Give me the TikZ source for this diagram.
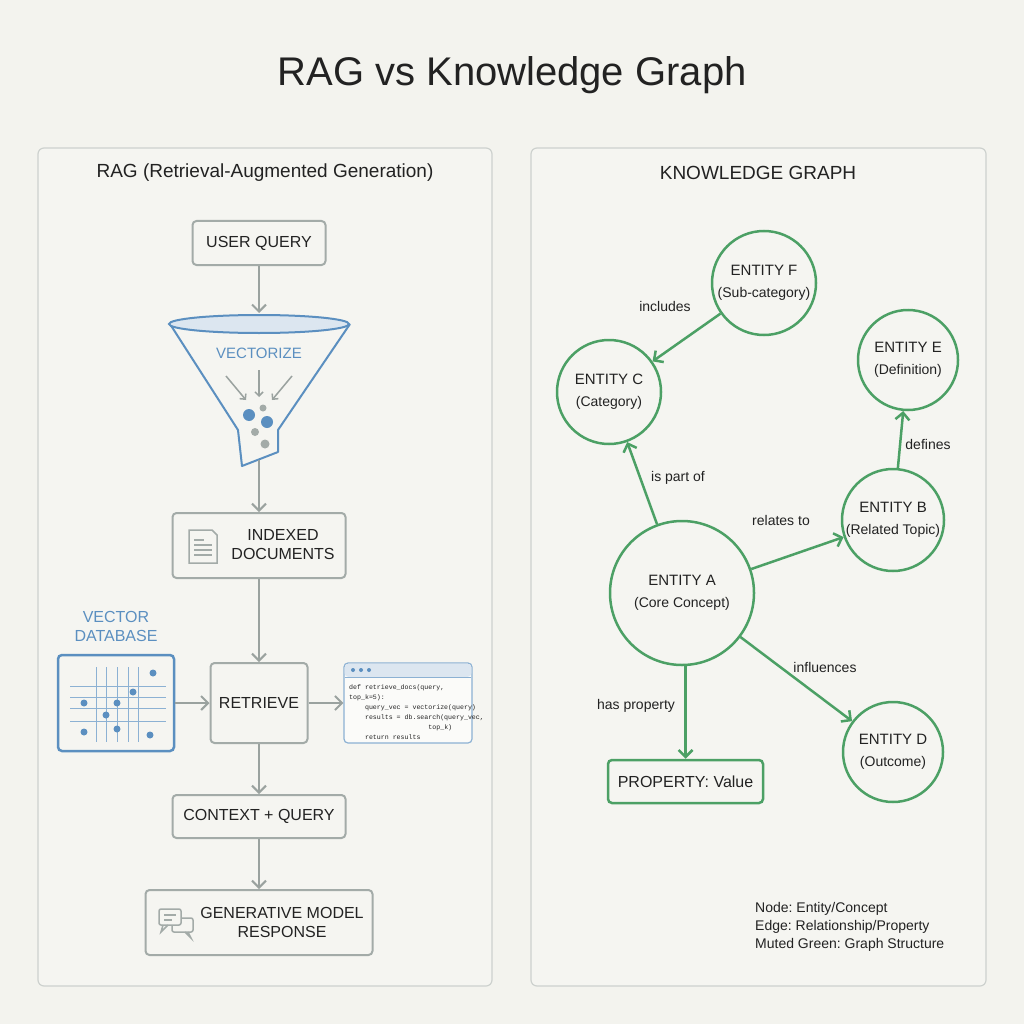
\documentclass[tikz,border=0pt]{standalone}
\usepackage{fontspec}
\setmainfont{Liberation Sans}
\newfontfamily\codefont{Liberation Mono}
\usetikzlibrary{arrows.meta}
\frenchspacing
\definecolor{bg}{HTML}{F3F3EE}
\definecolor{panel}{HTML}{F5F5F1}
\definecolor{pborder}{HTML}{CDD1CE}
\definecolor{gbox}{HTML}{A3ABA8}
\definecolor{garrow}{HTML}{9AA29F}
\definecolor{blu}{HTML}{5B8FC0}
\definecolor{lblu}{HTML}{DCE6F0}
\definecolor{grn}{HTML}{4CA065}
\definecolor{txt}{HTML}{222222}
\newcommand{\fs}[1]{\fontsize{#1}{\numexpr #1*6/5\relax}\selectfont}
\tikzset{
 x=1pt,y=-1pt,
 every node/.style={text=txt},
 gb/.style={draw=gbox,line width=2pt,rounded corners=4pt,fill=panel},
 ga/.style={draw=garrow,line width=2pt,-{Straight Barb[length=7pt,width=14pt,line width=2pt]}},
 ent/.style={circle,draw=grn,line width=2.5pt,align=center,font=\fs{15},inner sep=0pt},
 ge/.style={draw=grn,line width=2.5pt,-{Straight Barb[length=7pt,width=14pt,line width=2.5pt]}},
 el/.style={font=\fs{14}},
 bt/.style={font=\fs{16},align=center},
}
\begin{document}
\frenchspacing
\begin{tikzpicture}
\useasboundingbox (0,0) rectangle (1024,1024);
\fill[bg] (0,0) rectangle (1024,1024);
\node[font=\fs{40}] (title) at (512,75) {RAG vs Knowledge Graph};
\draw[pborder,line width=1.2pt,rounded corners=6pt,fill=panel] (38,148) rectangle (492,986);
\draw[pborder,line width=1.2pt,rounded corners=6pt,fill=panel] (531,148) rectangle (986,986);
\node[font=\fs{19}] (lh) at (265,173) {RAG (Retrieval-Augmented Generation)};
\node[font=\fs{19}] (rh) at (758,173) {KNOWLEDGE GRAPH};
% left column
\node[gb,bt,minimum width=133pt,minimum height=44pt] (uq) at (259,243) {USER QUERY};
% funnel
\coordinate (ftop) at (259,313);
\coordinate (fbot) at (259,460);
\draw[blu,line width=2pt,fill=panel,line join=round] (170,324) -- (238,430) -- (242,466) -- (278,452) -- (278,430) -- (350,324);
\draw[blu,line width=2pt,fill=lblu] (259,324) ellipse (90pt and 9pt);
\node[text=blu,font=\fs{15}] (vec) at (259,353) {VECTORIZE};
\draw[garrow,line width=1.5pt,-{Straight Barb[length=4pt,width=8pt,line width=1.5pt]}] (226,376) -- (246,400);
\draw[garrow,line width=1.5pt,-{Straight Barb[length=4pt,width=8pt,line width=1.5pt]}] (259,370) -- (259,397);
\draw[garrow,line width=1.5pt,-{Straight Barb[length=4pt,width=8pt,line width=1.5pt]}] (292,376) -- (272,400);
\fill[blu] (249,415) circle (6pt) (267,422) circle (6pt);
\fill[gbox] (263,408) circle (3.5pt) (255,432) circle (4pt) (265,444) circle (4.5pt);
\draw[ga] (uq) -- (ftop);
\node[gb,minimum width=173pt,minimum height=65pt] (idx) at (259,545.5) {};
\node[bt] (idxt) at (283,545) {INDEXED\\DOCUMENTS};
\draw[gbox,line width=1.5pt,fill=panel] (189,530) -- (212,530) -- (217,535) -- (217,563) -- (189,563) -- cycle;
\draw[gbox,line width=1.2pt] (194,545) -- (212,545) (194,550) -- (212,550) (194,555) -- (212,555) (194,540) -- (204,540);
\draw[ga] (fbot) -- (idx);
\node[gb,bt,minimum width=97pt,minimum height=80pt] (ret) at (259,703) {RETRIEVE};
\draw[ga] (idx) -- (ret);
% vector db
\node[text=blu,font=\fs{16},align=center] (vdbl) at (116,626) {VECTOR\\DATABASE};
\node[draw=blu,line width=2.5pt,rounded corners=4pt,fill=panel,minimum width=116pt,minimum height=96pt] (vdb) at (116,703) {};
\begin{scope}[blu!70,line width=1pt]
\foreach \x in {96,106,117,128,138} \draw (\x,667) -- (\x,742);
\foreach \y in {686,697,708,721} \draw (70,\y) -- (166,\y);
\end{scope}
\foreach \p in {(153,673),(133,692),(84,703),(117,703),(106,715),(117,729),(84,732),(150,735)} \fill[blu] \p circle (3.5pt);
\draw[ga] (vdb) -- (ret);
% code
\node[draw=blu!70,line width=1.2pt,rounded corners=4pt,fill=white!60!panel,minimum width=128pt,minimum height=80pt] (code) at (408,703) {};
\fill[lblu,rounded corners=4pt] (344.6,663.6) rectangle (471.4,677);
\draw[blu!70,line width=1pt] (344.6,677) -- (471.4,677);
\fill[blu] (353,670) circle (2pt) (361,670) circle (2pt) (369,670) circle (2pt);
\node[anchor=north west,align=left,inner sep=0pt,font=\codefont\fontsize{6.6}{10}\selectfont] (codet) at (349,685) {def retrieve\_docs(query,\\top\_k=5):\\\ \ \ \ query\_vec = vectorize(query)\\\ \ \ \ results = db.search(query\_vec,\\\ \ \ \ \ \ \ \ \ \ \ \ \ \ \ \ \ \ \ \ top\_k)\\\ \ \ \ return results};
\draw[ga] (ret) -- (code);
\node[gb,bt,minimum width=173pt,minimum height=43pt] (cq) at (259,816.5) {CONTEXT + QUERY};
\draw[ga] (ret) -- (cq);
\node[gb,minimum width=227pt,minimum height=65pt] (gen) at (259,922.5) {};
\node[bt] (gent) at (282,922) {GENERATIVE MODEL\\RESPONSE};
\draw[gbox,line width=1.5pt,rounded corners=2pt,fill=panel] (159,909) rectangle (181,925);
\draw[gbox,line width=1.5pt] (163,925) -- (161,932) -- (168,925);
\draw[gbox,line width=1.5pt,rounded corners=2pt] (181,918) -- (193,918) -- (193,932) -- (172,932) -- (172,925);
\draw[gbox,line width=1.5pt] (188,932) -- (191,938) -- (185,932);
\draw[gbox,line width=1.2pt] (164,915) -- (176,915) (164,920) -- (172,920);
\draw[ga] (cq) -- (gen);
% knowledge graph
\node[ent,minimum size=104pt] (F) at (764,283) {ENTITY F\\[4pt]{\fs{14}(Sub-category)}};
\node[ent,minimum size=104pt] (C) at (609,392) {ENTITY C\\[4pt]{\fs{14}(Category)}};
\node[ent,minimum size=100pt] (E) at (908,360) {ENTITY E\\[4pt]{\fs{14}(Definition)}};
\node[ent,minimum size=102pt] (B) at (893,520) {ENTITY B\\[4pt]{\fs{14}(Related Topic)}};
\node[ent,minimum size=144pt] (A) at (682,593) {ENTITY A\\[4pt]{\fs{14}(Core Concept)}};
\node[ent,minimum size=100pt] (D) at (893,752) {ENTITY D\\[4pt]{\fs{14}(Outcome)}};
\node[draw=grn,line width=2.5pt,rounded corners=4pt,font=\fs{16},minimum width=155pt,minimum height=43pt] (P) at (685.5,781.5) {PROPERTY: Value};
\draw[ge] (F) -- (C);
\draw[ge] (A) -- (C);
\draw[ge] (A) -- (B);
\draw[ge] (B) -- (E);
\draw[ge] (A) -- (D);
\draw[ge] (A.south -| P.north) -- (P.north);
\node[el] (l1) at (665,306) {includes};
\node[el] (l2) at (678,478) {is part of};
\node[el] (l3) at (781,520) {relates to};
\node[el] (l4) at (928,444) {defines};
\node[el] (l5) at (825,667) {influences};
\node[el] (l6) at (636,706) {has property};
\node[anchor=north west,align=left,font=\fs{14},inner sep=0pt] (leg) at (755,902) {Node: Entity/Concept\\[1pt]Edge: Relationship/Property\\[1pt]Muted Green: Graph Structure};
\end{tikzpicture}
\end{document}
